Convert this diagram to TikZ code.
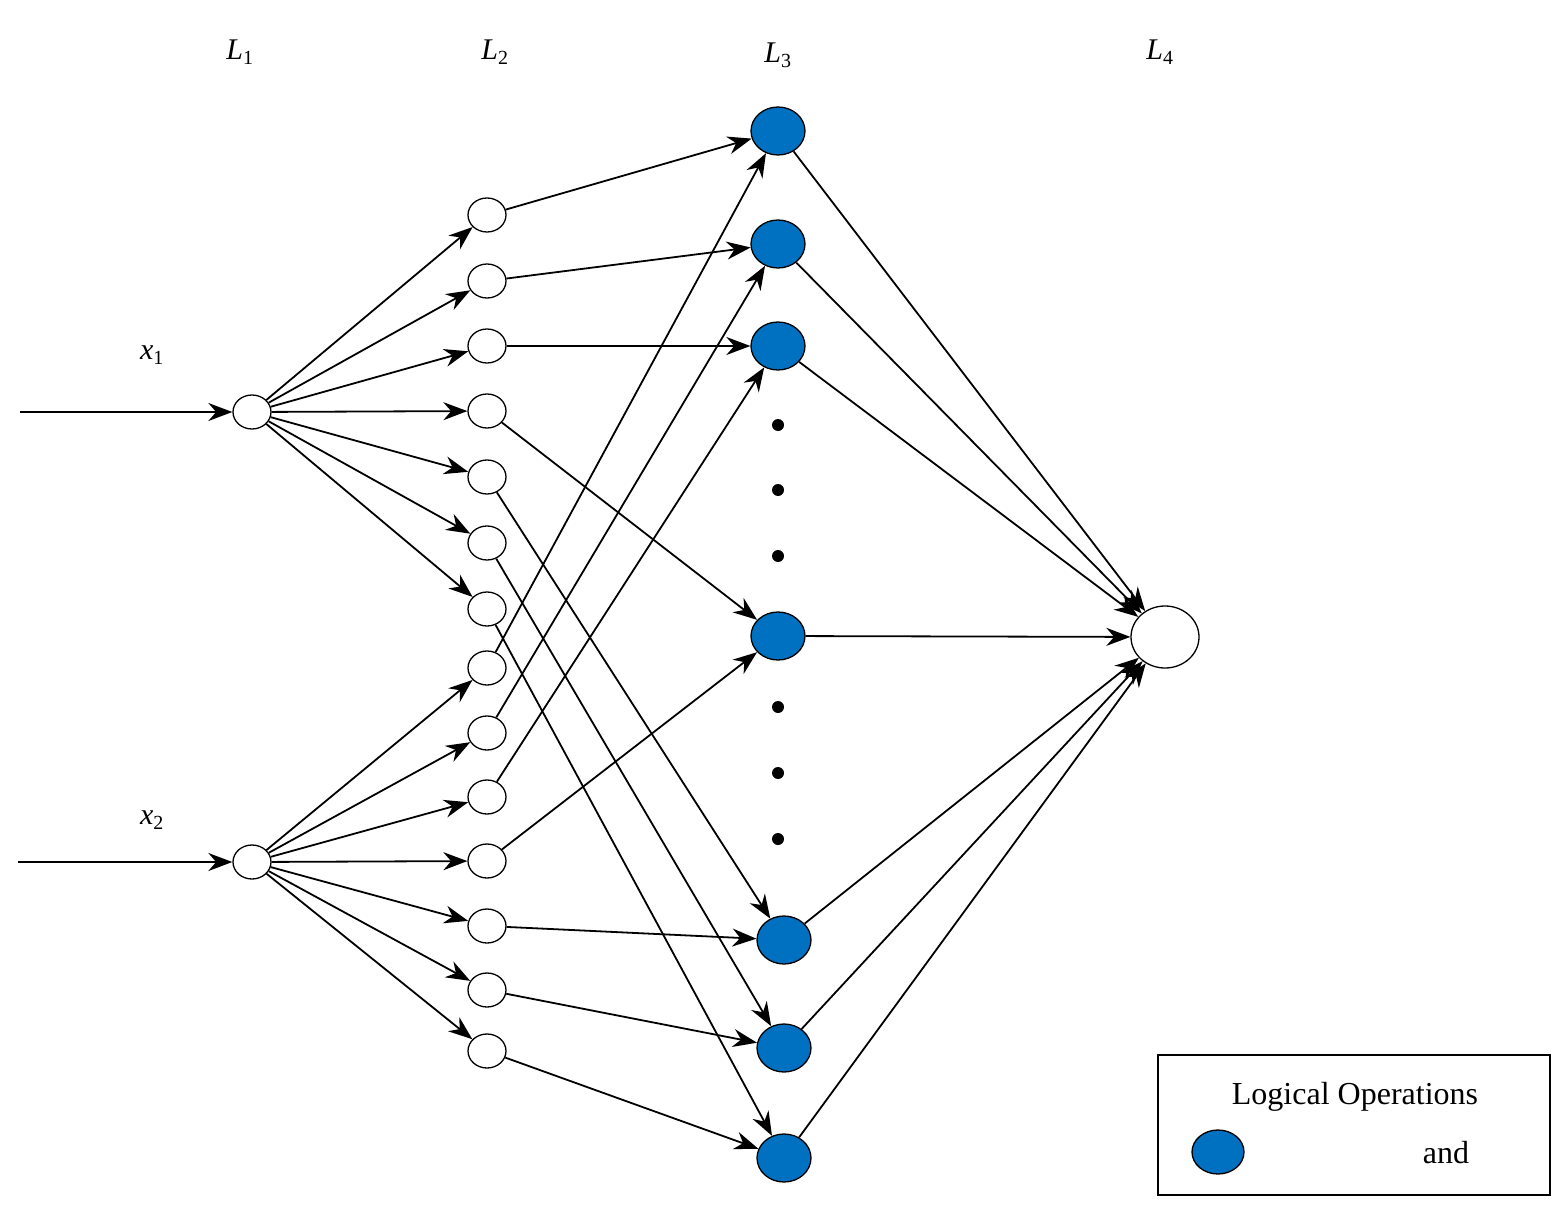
\documentclass[tikz,border=0pt]{standalone}
\usepackage{fontspec}
\setmainfont{Liberation Serif}
\usetikzlibrary{arrows.meta,shapes.geometric}
\definecolor{nblue}{HTML}{0070C0}
\begin{document}
\begin{tikzpicture}[x=1pt,y=-1pt,
  sm/.style={draw,line width=1.3,fill=white,ellipse,minimum width=38,minimum height=34,inner sep=0},
  bl/.style={draw,line width=1.3,fill=nblue,ellipse,minimum width=54,minimum height=48,inner sep=0},
  ar/.style={line width=1.8,-{Stealth[length=24,width=18]}},
  lab/.style={font=\fontsize{30}{36}\selectfont\itshape},
  txt/.style={font=\fontsize{32}{38}\selectfont}]
\useasboundingbox (0,0) rectangle (1561,1212);
\node[sm] (a1) at (252,412) {};
\node[sm] (a2) at (252,862) {};
\coordinate (i1) at (20,412);
\coordinate (i2) at (18,862);
\draw[ar] (i1) -- (a1);
\draw[ar] (i2) -- (a2);
\foreach \y [count=\i] in {215,281,346,411,477,543,609,668,733,797,861,926,990,1051}
  \node[sm] (b\i) at (487,\y) {};
\foreach \i in {1,...,7} \draw[ar] (a1) -- (b\i);
\foreach \i in {8,...,14} \draw[ar] (a2) -- (b\i);
\node[bl] (c1) at (778,131) {};
\node[bl] (c2) at (778,244) {};
\node[bl] (c3) at (778,346) {};
\node[bl] (c4) at (778,636) {};
\node[bl] (c5) at (784,940) {};
\node[bl] (c6) at (784,1048) {};
\node[bl] (c7) at (784,1158) {};
\foreach \y in {425,490,556,707,773,839} \fill (778,\y) circle (6);
\node[draw,line width=1.3,fill=white,ellipse,minimum width=68,minimum height=62] (d) at (1165,637) {};
\foreach \s/\t in {1/1,2/2,3/3,4/4,5/5,6/6,7/7,8/1,9/2,10/3,11/4,12/5,13/6,14/7}
  \draw[ar] (b\s) -- (c\t);
\foreach \i in {1,...,7} \draw[ar] (c\i) -- (d);
\node[lab] (l1) at (240,52) {L\textsubscript{\upshape\fontsize{20}{20}\selectfont 1}};
\node[lab] (l2) at (495,52) {L\textsubscript{\upshape\fontsize{20}{20}\selectfont 2}};
\node[lab] (l3) at (778,55) {L\textsubscript{\upshape\fontsize{20}{20}\selectfont 3}};
\node[lab] (l4) at (1160,52) {L\textsubscript{\upshape\fontsize{20}{20}\selectfont 4}};
\node[lab] (x1) at (152,355) {x\textsubscript{\upshape\fontsize{20}{20}\selectfont 1}};
\node[lab] (x2) at (152,820) {x\textsubscript{\upshape\fontsize{20}{20}\selectfont 2}};
\node[draw,line width=1.3,minimum width=392,minimum height=140] (box) at (1354,1125) {};
\node[txt] (t1) at (1355,1097) {Logical Operations};
\node[bl,minimum width=52,minimum height=44] (e) at (1218,1152) {};
\node[txt] (t2) at (1446,1153) {and};
\end{tikzpicture}
\end{document}
